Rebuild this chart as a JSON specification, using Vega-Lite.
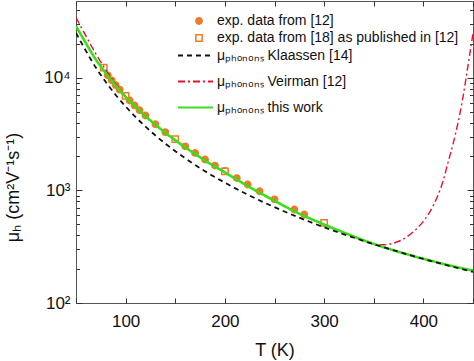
{
  "$schema": "https://vega.github.io/schema/vega-lite/v6.json",
  "width": 397,
  "height": 302,
  "autosize": {"type": "none"},
  "padding": {"left": 76, "top": 1, "right": 1, "bottom": 58},
  "background": "white",
  "config": {
    "font": "Liberation Sans",
    "view": {"stroke": "#555555", "strokeWidth": 1},
    "axis": {"grid": false, "domain": false, "tickColor": "#333333", "tickWidth": 1, "labelFont": "Liberation Sans", "labelFontSize": 17, "labelColor": "#111111", "titleFont": "Liberation Sans", "titleFontSize": 18, "titleFontWeight": "normal", "titleColor": "#111111"},
    "legend": {"labelFont": "Liberation Sans", "labelFontSize": 14, "labelColor": "#111111", "labelLimit": 400, "padding": 0}
  },
  "datasets": {
    "pts": [
      {"T": 82, "mu": 10510, "src": "exp. data from [12]"},
      {"T": 86, "mu": 9490, "src": "exp. data from [12]"},
      {"T": 90, "mu": 8600, "src": "exp. data from [12]"},
      {"T": 94, "mu": 7840, "src": "exp. data from [12]"},
      {"T": 104, "mu": 6280, "src": "exp. data from [12]"},
      {"T": 109, "mu": 5680, "src": "exp. data from [12]"},
      {"T": 114, "mu": 5150, "src": "exp. data from [12]"},
      {"T": 120, "mu": 4620, "src": "exp. data from [12]"},
      {"T": 130, "mu": 3870, "src": "exp. data from [12]"},
      {"T": 140, "mu": 3290, "src": "exp. data from [12]"},
      {"T": 160, "mu": 2460, "src": "exp. data from [12]"},
      {"T": 170, "mu": 2150, "src": "exp. data from [12]"},
      {"T": 180, "mu": 1880, "src": "exp. data from [12]"},
      {"T": 190, "mu": 1660, "src": "exp. data from [12]"},
      {"T": 200, "mu": 1490, "src": "exp. data from [12]"},
      {"T": 212, "mu": 1285, "src": "exp. data from [12]"},
      {"T": 223, "mu": 1128, "src": "exp. data from [12]"},
      {"T": 235, "mu": 982, "src": "exp. data from [12]"},
      {"T": 250, "mu": 832, "src": "exp. data from [12]"},
      {"T": 270, "mu": 676, "src": "exp. data from [12]"},
      {"T": 280, "mu": 611, "src": "exp. data from [12]"},
      {"T": 78, "mu": 12300, "src": "exp. data from [18] as published in [12]"},
      {"T": 100, "mu": 6900, "src": "exp. data from [18] as published in [12]"},
      {"T": 150, "mu": 2850, "src": "exp. data from [18] as published in [12]"},
      {"T": 200, "mu": 1475, "src": "exp. data from [18] as published in [12]"},
      {"T": 300, "mu": 514, "src": "exp. data from [18] as published in [12]"}
    ],
    "lines": [
      {"T": 50, "mu": 34200, "model": "μₚₕₒₙₒₙₛ Veirman [12]"},
      {"T": 55, "mu": 28300, "model": "μₚₕₒₙₒₙₛ Veirman [12]"},
      {"T": 60, "mu": 23500, "model": "μₚₕₒₙₒₙₛ Veirman [12]"},
      {"T": 65, "mu": 19500, "model": "μₚₕₒₙₒₙₛ Veirman [12]"},
      {"T": 70, "mu": 16300, "model": "μₚₕₒₙₒₙₛ Veirman [12]"},
      {"T": 80, "mu": 11750, "model": "μₚₕₒₙₒₙₛ Veirman [12]"},
      {"T": 90, "mu": 8850, "model": "μₚₕₒₙₒₙₛ Veirman [12]"},
      {"T": 100, "mu": 6850, "model": "μₚₕₒₙₒₙₛ Veirman [12]"},
      {"T": 110, "mu": 5515, "model": "μₚₕₒₙₒₙₛ Veirman [12]"},
      {"T": 120, "mu": 4560, "model": "μₚₕₒₙₒₙₛ Veirman [12]"},
      {"T": 140, "mu": 3250, "model": "μₚₕₒₙₒₙₛ Veirman [12]"},
      {"T": 160, "mu": 2410, "model": "μₚₕₒₙₒₙₛ Veirman [12]"},
      {"T": 180, "mu": 1840, "model": "μₚₕₒₙₒₙₛ Veirman [12]"},
      {"T": 200, "mu": 1445, "model": "μₚₕₒₙₒₙₛ Veirman [12]"},
      {"T": 225, "mu": 1069, "model": "μₚₕₒₙₒₙₛ Veirman [12]"},
      {"T": 250, "mu": 808, "model": "μₚₕₒₙₒₙₛ Veirman [12]"},
      {"T": 275, "mu": 621, "model": "μₚₕₒₙₒₙₛ Veirman [12]"},
      {"T": 300, "mu": 498, "model": "μₚₕₒₙₒₙₛ Veirman [12]"},
      {"T": 325, "mu": 405, "model": "μₚₕₒₙₒₙₛ Veirman [12]"},
      {"T": 340, "mu": 357, "model": "μₚₕₒₙₒₙₛ Veirman [12]"},
      {"T": 350, "mu": 334, "model": "μₚₕₒₙₒₙₛ Veirman [12]"},
      {"T": 360, "mu": 329, "model": "μₚₕₒₙₒₙₛ Veirman [12]"},
      {"T": 370, "mu": 340, "model": "μₚₕₒₙₒₙₛ Veirman [12]"},
      {"T": 380, "mu": 370, "model": "μₚₕₒₙₒₙₛ Veirman [12]"},
      {"T": 390, "mu": 430, "model": "μₚₕₒₙₒₙₛ Veirman [12]"},
      {"T": 400, "mu": 530, "model": "μₚₕₒₙₒₙₛ Veirman [12]"},
      {"T": 410, "mu": 735, "model": "μₚₕₒₙₒₙₛ Veirman [12]"},
      {"T": 420, "mu": 1225, "model": "μₚₕₒₙₒₙₛ Veirman [12]"},
      {"T": 425, "mu": 1790, "model": "μₚₕₒₙₒₙₛ Veirman [12]"},
      {"T": 430, "mu": 2600, "model": "μₚₕₒₙₒₙₛ Veirman [12]"},
      {"T": 435, "mu": 4030, "model": "μₚₕₒₙₒₙₛ Veirman [12]"},
      {"T": 440, "mu": 6800, "model": "μₚₕₒₙₒₙₛ Veirman [12]"},
      {"T": 445, "mu": 12900, "model": "μₚₕₒₙₒₙₛ Veirman [12]"},
      {"T": 450, "mu": 24800, "model": "μₚₕₒₙₒₙₛ Veirman [12]"},
      {"T": 50, "mu": 28700, "model": "μₚₕₒₙₒₙₛ this work"},
      {"T": 55, "mu": 24100, "model": "μₚₕₒₙₒₙₛ this work"},
      {"T": 60, "mu": 20240, "model": "μₚₕₒₙₒₙₛ this work"},
      {"T": 70, "mu": 14510, "model": "μₚₕₒₙₒₙₛ this work"},
      {"T": 80, "mu": 10980, "model": "μₚₕₒₙₒₙₛ this work"},
      {"T": 90, "mu": 8510, "model": "μₚₕₒₙₒₙₛ this work"},
      {"T": 100, "mu": 6770, "model": "μₚₕₒₙₒₙₛ this work"},
      {"T": 110, "mu": 5515, "model": "μₚₕₒₙₒₙₛ this work"},
      {"T": 120, "mu": 4560, "model": "μₚₕₒₙₒₙₛ this work"},
      {"T": 130, "mu": 3835, "model": "μₚₕₒₙₒₙₛ this work"},
      {"T": 140, "mu": 3250, "model": "μₚₕₒₙₒₙₛ this work"},
      {"T": 150, "mu": 2791, "model": "μₚₕₒₙₒₙₛ this work"},
      {"T": 160, "mu": 2410, "model": "μₚₕₒₙₒₙₛ this work"},
      {"T": 170, "mu": 2108, "model": "μₚₕₒₙₒₙₛ this work"},
      {"T": 180, "mu": 1840, "model": "μₚₕₒₙₒₙₛ this work"},
      {"T": 190, "mu": 1628, "model": "μₚₕₒₙₒₙₛ this work"},
      {"T": 200, "mu": 1445, "model": "μₚₕₒₙₒₙₛ this work"},
      {"T": 225, "mu": 1069, "model": "μₚₕₒₙₒₙₛ this work"},
      {"T": 250, "mu": 808, "model": "μₚₕₒₙₒₙₛ this work"},
      {"T": 275, "mu": 621, "model": "μₚₕₒₙₒₙₛ this work"},
      {"T": 300, "mu": 498, "model": "μₚₕₒₙₒₙₛ this work"},
      {"T": 325, "mu": 405, "model": "μₚₕₒₙₒₙₛ this work"},
      {"T": 350, "mu": 335, "model": "μₚₕₒₙₒₙₛ this work"},
      {"T": 375, "mu": 285, "model": "μₚₕₒₙₒₙₛ this work"},
      {"T": 400, "mu": 247, "model": "μₚₕₒₙₒₙₛ this work"},
      {"T": 425, "mu": 217, "model": "μₚₕₒₙₒₙₛ this work"},
      {"T": 450, "mu": 194, "model": "μₚₕₒₙₒₙₛ this work"},
      {"T": 50, "mu": 25000, "model": "μₚₕₒₙₒₙₛ Klaassen [14]"},
      {"T": 60, "mu": 17300, "model": "μₚₕₒₙₒₙₛ Klaassen [14]"},
      {"T": 70, "mu": 12300, "model": "μₚₕₒₙₒₙₛ Klaassen [14]"},
      {"T": 80, "mu": 9150, "model": "μₚₕₒₙₒₙₛ Klaassen [14]"},
      {"T": 90, "mu": 7030, "model": "μₚₕₒₙₒₙₛ Klaassen [14]"},
      {"T": 100, "mu": 5550, "model": "μₚₕₒₙₒₙₛ Klaassen [14]"},
      {"T": 120, "mu": 3680, "model": "μₚₕₒₙₒₙₛ Klaassen [14]"},
      {"T": 140, "mu": 2600, "model": "μₚₕₒₙₒₙₛ Klaassen [14]"},
      {"T": 160, "mu": 1930, "model": "μₚₕₒₙₒₙₛ Klaassen [14]"},
      {"T": 180, "mu": 1480, "model": "μₚₕₒₙₒₙₛ Klaassen [14]"},
      {"T": 200, "mu": 1170, "model": "μₚₕₒₙₒₙₛ Klaassen [14]"},
      {"T": 225, "mu": 898, "model": "μₚₕₒₙₒₙₛ Klaassen [14]"},
      {"T": 250, "mu": 709, "model": "μₚₕₒₙₒₙₛ Klaassen [14]"},
      {"T": 275, "mu": 572, "model": "μₚₕₒₙₒₙₛ Klaassen [14]"},
      {"T": 300, "mu": 470, "model": "μₚₕₒₙₒₙₛ Klaassen [14]"},
      {"T": 325, "mu": 393, "model": "μₚₕₒₙₒₙₛ Klaassen [14]"},
      {"T": 350, "mu": 333, "model": "μₚₕₒₙₒₙₛ Klaassen [14]"},
      {"T": 375, "mu": 285, "model": "μₚₕₒₙₒₙₛ Klaassen [14]"},
      {"T": 400, "mu": 246, "model": "μₚₕₒₙₒₙₛ Klaassen [14]"},
      {"T": 425, "mu": 215, "model": "μₚₕₒₙₒₙₛ Klaassen [14]"},
      {"T": 450, "mu": 189, "model": "μₚₕₒₙₒₙₛ Klaassen [14]"}
    ]
  },
  "resolve": {"axis": {"x": "independent", "y": "independent"}},
  "layer": [
    {
      "data": {"name": "pts"},
      "mark": {"type": "point", "size": 40, "strokeWidth": 1.5, "opacity": 1, "filled": false},
      "encoding": {
        "x": {"field": "T", "type": "quantitative", "scale": {"domain": [50, 450], "nice": false, "zero": false},
          "axis": {"orient": "bottom", "values": [50, 100, 150, 200, 250, 300, 350, 400, 450], "labelExpr": "datum.value % 100 == 0 ? datum.label : ''", "tickSize": -5, "labelPadding": 15, "title": "T (K)", "titlePadding": 12}},
        "y": {"field": "mu", "type": "quantitative", "scale": {"type": "log", "domain": [100, 48000], "nice": false},
          "axis": {"orient": "left", "values": [100, 1000, 10000], "labelExpr": "datum.value == 100 ? '10²' : datum.value == 1000 ? '10³' : '10⁴'", "tickSize": -6, "labelPadding": 12, "title": "μₕ (cm²V⁻¹s⁻¹)", "titleFontSize": 18, "titlePadding": 21, "titleY": 186}},
        "fill": {"field": "src", "type": "nominal", "scale": {"domain": ["exp. data from [12]", "exp. data from [18] as published in [12]"], "range": ["#f07a28", "white"]},
          "legend": {"title": null, "orient": "none", "legendX": 101, "legendY": 13, "symbolSize": 40, "symbolStrokeWidth": 1.5, "symbolOffset": 15, "labelOffset": 11, "rowPadding": 3}},
        "color": {"field": "src", "type": "nominal", "scale": {"domain": ["exp. data from [12]", "exp. data from [18] as published in [12]"], "range": ["#f07a28", "#f07a28"]},
          "legend": {"title": null, "orient": "none", "legendX": 101, "legendY": 13, "symbolSize": 40, "symbolStrokeWidth": 1.5, "symbolOffset": 15, "labelOffset": 11, "rowPadding": 3}},
        "shape": {"field": "src", "type": "nominal", "scale": {"domain": ["exp. data from [12]", "exp. data from [18] as published in [12]"], "range": ["circle", "square"]},
          "legend": {"title": null, "orient": "none", "legendX": 101, "legendY": 13, "symbolSize": 40, "symbolStrokeWidth": 1.5, "symbolOffset": 15, "labelOffset": 11, "rowPadding": 3}}
      }
    },
    {
      "data": {"name": "lines"},
      "transform": [{"filter": "datum.model == 'μₚₕₒₙₒₙₛ Veirman [12]'"}],
      "mark": {"type": "line", "strokeWidth": 1.4, "interpolate": "monotone", "clip": true},
      "encoding": {
        "x": {"field": "T", "type": "quantitative", "axis": {"orient": "top", "values": [50, 100, 150, 200, 250, 300, 350, 400, 450], "labels": false, "tickSize": -5, "title": null}},
        "y": {"field": "mu", "type": "quantitative", "axis": {"orient": "right", "values": [100, 1000, 10000], "labels": false, "tickSize": -6, "title": null}},
        "stroke": {"field": "model", "type": "nominal", "scale": {"domain": ["μₚₕₒₙₒₙₛ Klaassen [14]", "μₚₕₒₙₒₙₛ Veirman [12]", "μₚₕₒₙₒₙₛ this work"], "range": ["#111111", "#e3122d", "#3ddd1a"]},
          "legend": {"title": null, "orient": "none", "legendX": 101, "legendY": 36, "symbolType": "stroke", "symbolSize": 1225, "symbolStrokeWidth": 2, "labelOffset": 3, "rowPadding": -4.5}},
        "strokeDash": {"field": "model", "type": "nominal", "scale": {"domain": ["μₚₕₒₙₒₙₛ Klaassen [14]", "μₚₕₒₙₒₙₛ Veirman [12]", "μₚₕₒₙₒₙₛ this work"], "range": [[5, 4], [7, 3, 2, 3], [1, 0]]},
          "legend": {"title": null, "orient": "none", "legendX": 101, "legendY": 36, "symbolType": "stroke", "symbolSize": 1225, "symbolStrokeWidth": 2, "labelOffset": 3, "rowPadding": -4.5}}
      }
    },
    {
      "data": {"name": "lines"},
      "transform": [{"filter": "datum.model == 'μₚₕₒₙₒₙₛ this work'"}],
      "mark": {"type": "line", "strokeWidth": 2.6, "interpolate": "monotone", "clip": true},
      "encoding": {
        "x": {"field": "T", "type": "quantitative", "axis": null},
        "y": {"field": "mu", "type": "quantitative", "axis": {"orient": "left", "values": [200, 300, 400, 500, 600, 700, 800, 900, 2000, 3000, 4000, 5000, 6000, 7000, 8000, 9000, 20000, 30000, 40000], "labels": false, "tickSize": -3.5, "title": null}},
        "stroke": {"field": "model", "type": "nominal", "scale": {"domain": ["μₚₕₒₙₒₙₛ Klaassen [14]", "μₚₕₒₙₒₙₛ Veirman [12]", "μₚₕₒₙₒₙₛ this work"], "range": ["#111111", "#e3122d", "#3ddd1a"]},
          "legend": {"title": null, "orient": "none", "legendX": 101, "legendY": 36, "symbolType": "stroke", "symbolSize": 1225, "symbolStrokeWidth": 2, "labelOffset": 3, "rowPadding": -4.5}},
        "strokeDash": {"field": "model", "type": "nominal", "scale": {"domain": ["μₚₕₒₙₒₙₛ Klaassen [14]", "μₚₕₒₙₒₙₛ Veirman [12]", "μₚₕₒₙₒₙₛ this work"], "range": [[5, 4], [7, 3, 2, 3], [1, 0]]},
          "legend": {"title": null, "orient": "none", "legendX": 101, "legendY": 36, "symbolType": "stroke", "symbolSize": 1225, "symbolStrokeWidth": 2, "labelOffset": 3, "rowPadding": -4.5}}
      }
    },
    {
      "data": {"name": "lines"},
      "transform": [{"filter": "datum.model == 'μₚₕₒₙₒₙₛ Klaassen [14]'"}],
      "mark": {"type": "line", "strokeWidth": 1.8, "interpolate": "monotone", "clip": true},
      "encoding": {
        "x": {"field": "T", "type": "quantitative", "axis": null},
        "y": {"field": "mu", "type": "quantitative", "axis": {"orient": "right", "values": [200, 300, 400, 500, 600, 700, 800, 900, 2000, 3000, 4000, 5000, 6000, 7000, 8000, 9000, 20000, 30000, 40000], "labels": false, "tickSize": -3.5, "title": null}},
        "stroke": {"field": "model", "type": "nominal", "scale": {"domain": ["μₚₕₒₙₒₙₛ Klaassen [14]", "μₚₕₒₙₒₙₛ Veirman [12]", "μₚₕₒₙₒₙₛ this work"], "range": ["#111111", "#e3122d", "#3ddd1a"]},
          "legend": {"title": null, "orient": "none", "legendX": 101, "legendY": 36, "symbolType": "stroke", "symbolSize": 1225, "symbolStrokeWidth": 2, "labelOffset": 3, "rowPadding": -4.5}},
        "strokeDash": {"field": "model", "type": "nominal", "scale": {"domain": ["μₚₕₒₙₒₙₛ Klaassen [14]", "μₚₕₒₙₒₙₛ Veirman [12]", "μₚₕₒₙₒₙₛ this work"], "range": [[5, 4], [7, 3, 2, 3], [1, 0]]},
          "legend": {"title": null, "orient": "none", "legendX": 101, "legendY": 36, "symbolType": "stroke", "symbolSize": 1225, "symbolStrokeWidth": 2, "labelOffset": 3, "rowPadding": -4.5}}
      }
    }
  ]
}
